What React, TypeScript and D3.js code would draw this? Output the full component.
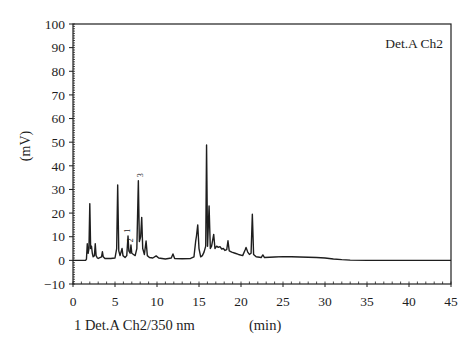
import React from 'react';
import * as d3 from 'd3';

// retention time (min) and detector signal (mV)
const times = [
  0, 1.5, 1.6, 1.7, 1.8, 1.9, 2.0, 2.1, 2.2, 2.3, 2.4, 2.55, 2.65, 2.75, 2.9, 3.0, 3.4, 3.5, 3.6, 3.8,
  4.5, 5.0, 5.2, 5.32, 5.45, 5.6, 5.84, 5.95, 6.2, 6.4, 6.55, 6.65, 6.8, 6.9, 7.0, 7.2, 7.4, 7.6, 7.78,
  7.9, 8.05, 8.18, 8.3, 8.5, 8.7, 8.85, 9.1, 9.5, 9.9, 10.2, 11.0, 11.7, 11.9, 12.1, 13, 14.0, 14.4,
  14.6, 14.7, 14.85, 15.0, 15.2, 15.4, 15.6, 15.8, 15.9, 16.02, 16.2, 16.35, 16.5, 16.75, 16.9, 17.1,
  17.3, 17.5, 17.7, 17.9, 18.1, 18.3, 18.45, 18.6, 18.9, 19.3, 19.7, 20.2, 20.5, 20.6, 20.8, 21.0,
  21.2, 21.35, 21.5, 21.8, 22.4, 22.6, 22.8, 24, 25, 26, 27, 28, 29, 30, 31, 32, 33, 35, 45,
];
const signal = [
  0, 0, 0.5, 7, 3, 5, 24, 5, 6, 3, 1.5, 2, 7, 2, 1, 0.8, 1.5, 3.7, 1.5, 0.8,
  0.8, 1, 5, 31.9, 4, 2, 5, 2, 1.2, 2, 10.3, 4, 3, 6.5, 3, 2.5, 2, 5, 33.7,
  8, 10, 18.2, 5, 2.5, 8.2, 2, 1.2, 1, 1.9, 1, 0.6, 1, 2.7, 0.8, 0.7, 0.8, 1.5,
  8, 10.3, 15, 5, 1.5, 2, 3.5, 6, 48.8, 6, 23, 5, 6, 11, 5, 6,
  5.5, 5.8, 4.8, 5, 4.2, 4.5, 8.3, 4, 3.5, 3, 2.5, 2, 4.5, 5.5, 3.5, 2.5,
  3, 19.5, 2.5, 1.5, 1.2, 2.3, 1.2, 1.4, 1.6, 1.5, 1.4, 1.3, 1.2, 1, 0.6, 0.3, 0.1, 0, 0,
];

const xTicks = [0, 5, 10, 15, 20, 25, 30, 35, 40, 45];
const yTicks = [-10, 0, 10, 20, 30, 40, 50, 60, 70, 80, 90, 100];
const peakLabels = ['1', '2', '3'];
const peakAt = [6.45, 6.85, 8.0];
const peakLabelY = [12.5, 8.5, 36];

const W = 474, H = 351;
const left = 73, right = 451, top = 24, bottom = 284;
const font = '"Liberation Serif", "Times New Roman", serif';

export default function App() {
  const x = d3.scaleLinear().domain([0, 45]).range([left, right]);
  const y = d3.scaleLinear().domain([-10, 100]).range([bottom, top]);
  const line = d3.line<number>().x((_, i) => x(times[i])).y(d => y(d));
  const xMinor = d3.range(0, 46, 1);
  const yMinor = d3.range(-10, 101, 1);
  const ink = '#1e1e1e';

  return (
    <svg width={W} height={H} style={{ position: 'absolute', left: 0, top: 0, background: '#fff' }}
      fontFamily={font}>
      <rect x={0} y={0} width={W} height={H} fill="#fff" />
      {/* frame */}
      <rect x={left} y={top} width={right - left} height={bottom - top} fill="none" stroke={ink} strokeWidth={1.2} />
      {/* y ticks */}
      {yMinor.map(v => (
        <line key={'ym' + v} x1={left} x2={left + 2} y1={y(v)} y2={y(v)} stroke={ink} strokeWidth={0.8} />
      ))}
      {yTicks.map(v => (
        <g key={'y' + v}>
          <line x1={left - 4} x2={left} y1={y(v)} y2={y(v)} stroke={ink} strokeWidth={1} />
          <text x={left - 8} y={y(v)} dy="0.35em" textAnchor="end" fontSize={13.5} fill={ink}>
            {v < 0 ? '\u2212' + Math.abs(v) : v}
          </text>
        </g>
      ))}
      {/* x ticks */}
      {xMinor.map(v => (
        <line key={'xm' + v} x1={x(v)} x2={x(v)} y1={bottom} y2={bottom - 2.5} stroke={ink} strokeWidth={0.8} />
      ))}
      {xTicks.map(v => (
        <g key={'x' + v}>
          <line x1={x(v)} x2={x(v)} y1={bottom} y2={bottom + 3} stroke={ink} strokeWidth={1} />
          <text x={x(v)} y={bottom + 17} dy="0.35em" textAnchor="middle" fontSize={13.5} fill={ink}>{v}</text>
        </g>
      ))}
      {/* trace */}
      <path d={line(signal) || ''} fill="none" stroke={ink} strokeWidth={1.4} strokeLinejoin="round" />
      {/* peak labels */}
      {peakLabels.map((l, i) => (
        <text key={l} transform={`translate(${x(peakAt[i])},${y(peakLabelY[i])}) rotate(-90)`}
          textAnchor="middle" dy="0.35em" fontSize={8} fill={ink}>{l}</text>
      ))}
      <text x={443} y={43} dy="0.35em" textAnchor="end" fontSize={13.5} fill={ink}>Det.A Ch2</text>
      <text transform={`translate(25,146) rotate(-90)`} textAnchor="middle" dy="0.35em" fontSize={14} fill={ink}>(mV)</text>
      <text x={74} y={325} dy="0.35em" fontSize={14.5} fill={ink}>1 Det.A Ch2/350 nm</text>
      <text x={249} y={325} dy="0.35em" fontSize={14.5} fill={ink}>(min)</text>
    </svg>
  );
}
